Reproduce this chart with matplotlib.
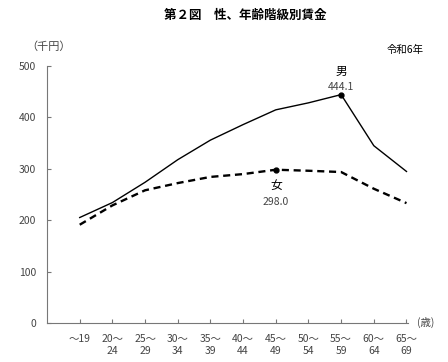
import matplotlib
matplotlib.use("Agg")
import matplotlib.pyplot as plt

plt.rcParams['font.family'] = ['Noto Sans CJK JP', 'DejaVu Sans']

# age groups
age_labels = ['〜19', '20〜\n24', '25〜\n29', '30〜\n34', '35〜\n39', '40〜\n44',
              '45〜\n49', '50〜\n54', '55〜\n59', '60〜\n64', '65〜\n69']
male = [205.0, 234.1, 273.6, 317.5, 355.6, 385.8, 414.5, 428.1, 444.1, 344.7, 294.6]
female = [191.0, 228.6, 258.0, 272.0, 284.0, 289.5, 298.0, 296.0, 293.5, 261.0, 233.0]
male_peak = 8
female_peak = 6

x = list(range(len(age_labels)))

fig = plt.figure(figsize=(4.48, 3.62), dpi=100)
ax = fig.add_axes([0.105, 0.108, 0.806, 0.710])

ax.plot(x, male, color='black', lw=1.0)
ax.plot(x, female, color='black', lw=1.7, ls=(0, (3, 2)))
ax.plot(x[male_peak], male[male_peak], 'o', color='black', ms=3.5)
ax.plot(x[female_peak], female[female_peak], 'o', color='black', ms=3.5)

# labels at peaks
ax.text(x[male_peak], male[male_peak] + 46, '男', ha='center', va='center', fontsize=8.5)
ax.text(x[male_peak], male[male_peak] + 15, f'{male[male_peak]:.1f}', ha='center',
        va='center', fontsize=7.5, color='#444444')
ax.text(x[female_peak], female[female_peak] - 31, '女', ha='center', va='center', fontsize=8.5)
ax.text(x[female_peak], female[female_peak] - 63, f'{female[female_peak]:.1f}', ha='center',
        va='center', fontsize=7.5, color='#444444')

ax.set_xlim(-1, 10.05)
ax.set_ylim(0, 500)
ax.set_yticks([0, 100, 200, 300, 400, 500])
ax.set_xticks(x)
ax.set_xticklabels(age_labels, fontsize=7.5, color='#444444', va='top', linespacing=1.3)
ax.tick_params(axis='y', direction='in', length=3, labelsize=7.5, labelcolor='#444444',
               color='#777777', pad=8)
ax.tick_params(axis='x', direction='in', length=3, color='#777777', pad=8)
for s in ['top', 'right']:
    ax.spines[s].set_visible(False)
for s in ['left', 'bottom']:
    ax.spines[s].set_color('#777777')
    ax.spines[s].set_linewidth(0.8)

fig.text(0.547, 0.958, '第２図　性、年齢階級別賃金', ha='center', va='center',
         fontsize=9, fontweight='bold')
fig.text(0.108, 0.870, '（千円）', ha='center', va='center', fontsize=8, color='#444444')
fig.text(0.905, 0.862, '令和6年', ha='center', va='center', fontsize=7.5)
fig.text(0.95, 0.108, '(歳)', ha='center', va='center', fontsize=7.5, color='#444444')

fig.savefig('out.png', dpi=100)
